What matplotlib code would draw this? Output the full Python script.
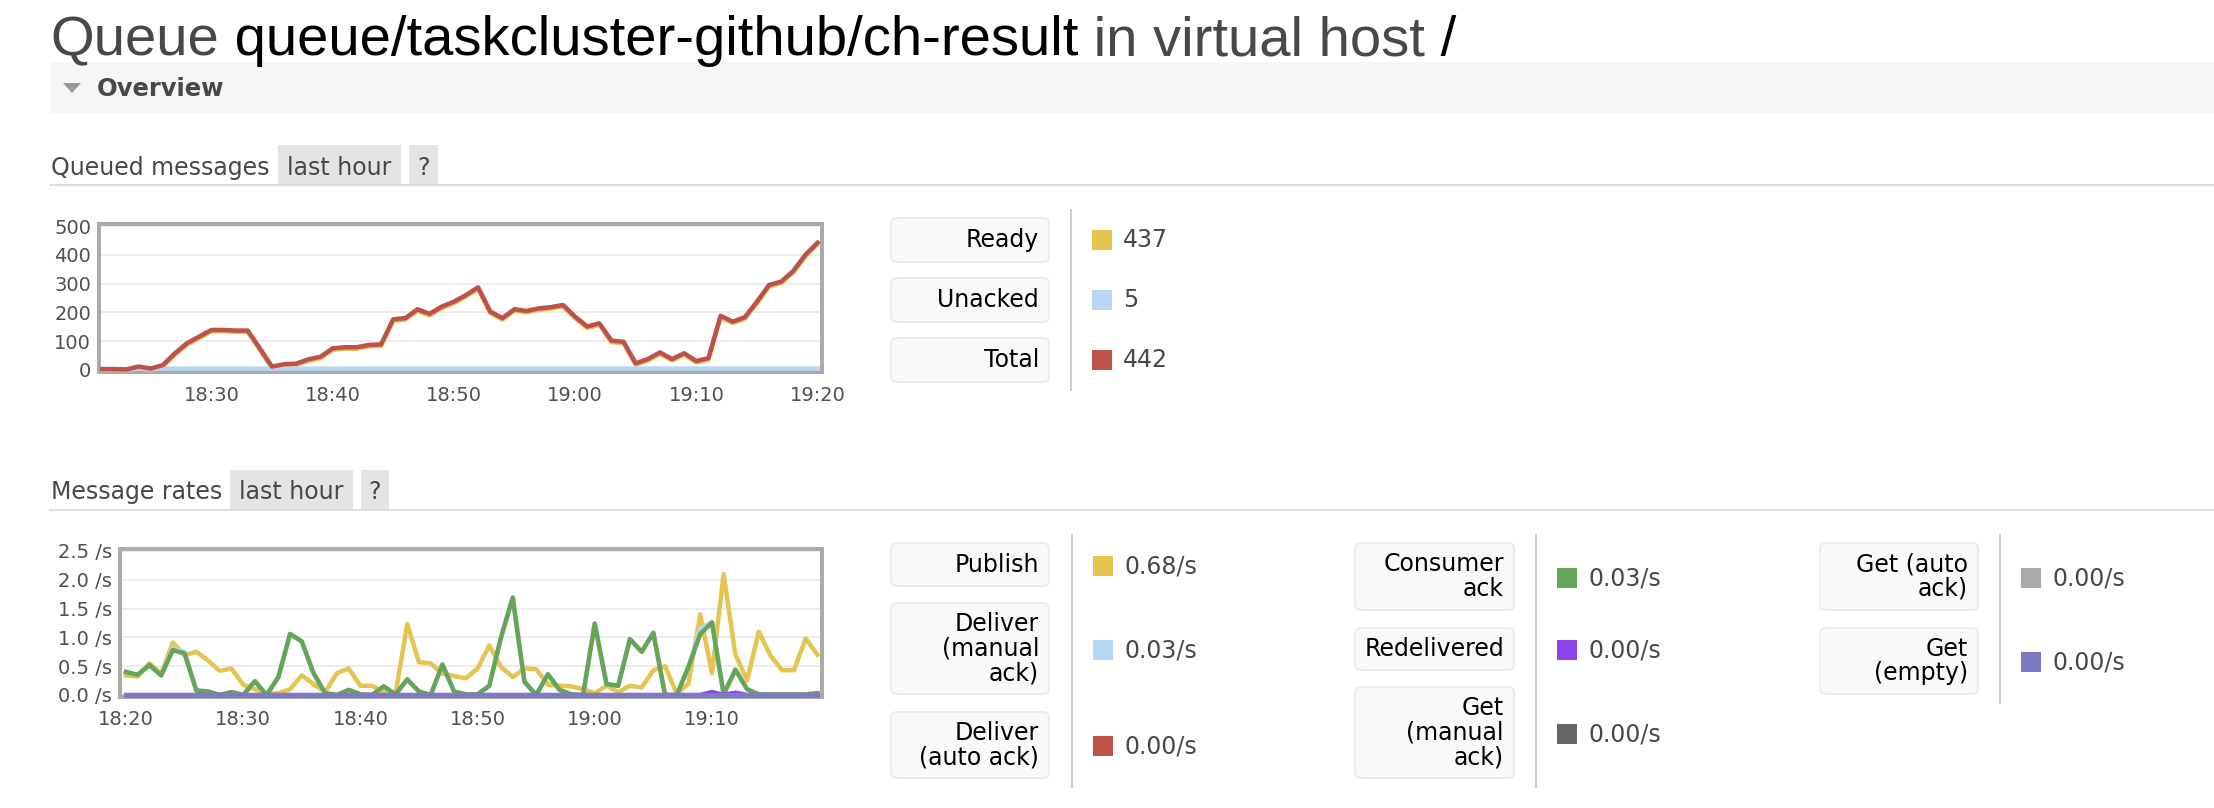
import matplotlib
matplotlib.use('Agg')
import matplotlib.pyplot as plt
from matplotlib.patches import Rectangle, FancyBboxPatch, Polygon

# queued messages, one point per minute, 18:21 .. 19:20
queue_minutes = list(range(21, 81))
ready = [0, 0, 0, 7, 0, 12, 53, 88, 111, 134,
         134, 132, 132, 70, 7, 15, 17, 32, 41, 70,
         74, 74, 82, 84, 171, 175, 206, 190, 215, 232,
         255, 282, 198, 175, 206, 200, 209, 213, 221, 180,
         146, 157, 97, 93, 18, 33, 56, 33, 53, 26,
         36, 183, 163, 178, 232, 290, 302, 339, 395, 437]
unacked = [3, 3, 2, 5, 5, 5, 5, 5, 5, 5,
           5, 5, 5, 5, 5, 5, 5, 5, 5, 5,
           5, 5, 5, 5, 5, 5, 5, 5, 5, 5,
           5, 5, 5, 5, 5, 5, 5, 5, 5, 5,
           5, 5, 5, 5, 5, 5, 5, 5, 5, 5,
           5, 5, 5, 5, 5, 5, 5, 5, 5, 5]
total = [r + u for r, u in zip(ready, unacked)]

# message rates, one point per minute, 18:20 .. 19:19
rate_minutes = list(range(20, 80))
publish = [0.34, 0.32, 0.55, 0.37, 0.91, 0.69, 0.75, 0.60, 0.42, 0.46,
           0.18, 0.10, 0.02, 0.03, 0.10, 0.34, 0.19, 0.05, 0.38, 0.46,
           0.16, 0.16, 0.05, 0.02, 1.23, 0.57, 0.55, 0.37, 0.33, 0.29,
           0.46, 0.86, 0.49, 0.31, 0.46, 0.45, 0.18, 0.16, 0.15, 0.10,
           0.03, 0.16, 0.05, 0.16, 0.13, 0.43, 0.50, 0.02, 0.20, 1.40,
           0.38, 2.10, 0.70, 0.25, 1.10, 0.68, 0.43, 0.43, 0.98, 0.70]
deliver_manual = [0.40, 0.35, 0.52, 0.34, 0.81, 0.75, 0.08, 0.06, 0.00, 0.05,
                  0.00, 0.24, 0.00, 0.31, 1.06, 0.93, 0.38, 0.03, 0.00, 0.09,
                  0.01, 0.00, 0.15, 0.01, 0.27, 0.06, 0.00, 0.53, 0.06, 0.01,
                  0.01, 0.16, 1.00, 1.69, 0.23, 0.00, 0.36, 0.09, 0.01, 0.00,
                  1.24, 0.19, 0.16, 0.97, 0.75, 1.08, 0.00, 0.00, 0.49, 1.15,
                  1.26, 0.01, 0.44, 0.10, 0.01, 0.01, 0.01, 0.01, 0.01, 0.03]
deliver_auto = [0.0] * 60
consumer_ack = [0.40, 0.35, 0.52, 0.34, 0.78, 0.72, 0.08, 0.06, 0.00, 0.05,
                0.00, 0.24, 0.00, 0.31, 1.06, 0.93, 0.38, 0.03, 0.00, 0.09,
                0.01, 0.00, 0.15, 0.01, 0.27, 0.06, 0.00, 0.53, 0.06, 0.01,
                0.01, 0.16, 1.00, 1.69, 0.23, 0.00, 0.36, 0.09, 0.01, 0.00,
                1.24, 0.19, 0.16, 0.97, 0.75, 1.08, 0.00, 0.00, 0.49, 1.06,
                1.26, 0.01, 0.44, 0.10, 0.01, 0.01, 0.01, 0.01, 0.01, 0.03]
redelivered = [0.0] * 50 + [0.05, 0.0, 0.04, 0.0, 0.0, 0.0, 0.0, 0.0, 0.0, 0.0]
get_manual = [0.0] * 60
get_auto = [0.0] * 60
get_empty = [0.0] * 60

queue_ticks = [30, 40, 50, 60, 70, 80]
queue_tick_labels = ['18:30', '18:40', '18:50', '19:00', '19:10', '19:20']
rate_ticks = [20, 30, 40, 50, 60, 70]
rate_tick_labels = ['18:20', '18:30', '18:40', '18:50', '19:00', '19:10']

queue_names = ['Ready', 'Unacked', 'Total']
queue_now = ['437', '5', '442']
rate_names = ['Publish', 'Deliver\n(manual\nack)', 'Deliver\n(auto ack)',
              'Consumer\nack', 'Redelivered', 'Get\n(manual\nack)',
              'Get (auto\nack)', 'Get\n(empty)']
rate_now = ['0.68/s', '0.03/s', '0.00/s', '0.03/s', '0.00/s', '0.00/s',
            '0.00/s', '0.00/s']

YELLOW = '#e6c452'
BLUE = '#b7d6f4'
RED = '#bc5249'
GREEN = '#64a556'
PURPLE = '#8b44e8'
DGRAY = '#666666'
LGRAY = '#aaaaaa'
SLATE = '#7b79c0'

W, H = 2214, 808
fig = plt.figure(figsize=(W / 100, H / 100), dpi=100)
bg = fig.add_axes([0, 0, 1, 1])
bg.set_xlim(0, W)
bg.set_ylim(H, 0)
bg.axis('off')
PT = 0.72  # points per pixel at dpi 100


def px_rect(x0, y0, x1, y1):
    return [x0 / W, 1 - y1 / H, (x1 - x0) / W, (y1 - y0) / H]


# title, pieces in two colours
renderer = fig.canvas.get_renderer()
x = 50
for piece, col in [('Queue', '#484848'), (' queue/taskcluster-github/ch-result', '#000000'),
                   (' in virtual host', '#484848'), (' /', '#000000')]:
    t = bg.text(x, 55, piece, fontsize=40.5, family='Liberation Sans', color=col, va='baseline')
    x += t.get_window_extent(renderer).width

# overview bar
bg.add_patch(Rectangle((50, 62), W - 50, 51, color='#f6f6f6', lw=0))
bg.add_patch(Polygon([(63, 83), (81, 83), (72, 93)], closed=True, color='#999999', lw=0))
bg.text(97, 96, 'Overview', fontsize=17.5, weight='bold', color='#484848', va='baseline')


def section_header(label, x_text, base, box1, box2, top, bottom):
    bg.text(x_text, base, label, fontsize=17, color='#484848', va='baseline')
    bg.add_patch(Rectangle((box1[0], top), box1[1] - box1[0], bottom - top, color='#e4e4e4', lw=0))
    bg.text(box1[0] + 9, base, 'last hour', fontsize=17, color='#484848', va='baseline')
    bg.add_patch(Rectangle((box2[0], top), box2[1] - box2[0], bottom - top, color='#e4e4e4', lw=0))
    bg.text((box2[0] + box2[1]) / 2, base, '?', fontsize=17, color='#484848', va='baseline', ha='center')
    bg.plot([50, W], [bottom + 1, bottom + 1], color='#dddddd', lw=2 * PT)


section_header('Queued messages', 51, 175, (278, 401), (409, 438), 145, 184)
section_header('Message rates', 51, 499, (230, 353), (361, 389), 470, 509)


def chart(x0, y0, x1, y1):
    # grey border drawn around the plot area, lines may run over it
    bg.add_patch(Rectangle((x0 - 2, y0 - 2), x1 - x0 + 4, y1 - y0 + 4,
                           facecolor='none', edgecolor='#aaaaaa', lw=4 * PT))
    ax = fig.add_axes(px_rect(x0, y0, x1, y1))
    for sp in ax.spines.values():
        sp.set_visible(False)
    return ax


def style_chart(ax, ticks, labels, xlim, ylim, yticks, ylabels, xpad):
    ax.set_xlim(*xlim)
    ax.set_ylim(*ylim)
    ax.set_xticks(ticks)
    ax.set_xticklabels(labels)
    ax.set_yticks(yticks)
    ax.set_yticklabels(ylabels)
    ax.tick_params(axis='both', length=0, labelsize=14, labelcolor='#4f4f4f')
    ax.tick_params(axis='y', pad=10 * PT)
    ax.tick_params(axis='x', pad=xpad)
    ax.yaxis.grid(True, color='#ececec', lw=2 * PT)
    ax.set_axisbelow(True)


LW = 4.5 * PT

# queued messages chart
ax1 = chart(101, 226, 820, 370)
ax1.plot(queue_minutes, ready, color=YELLOW, lw=LW, clip_on=False)
ax1.plot(queue_minutes, unacked, color=BLUE, lw=LW, clip_on=False)
ax1.plot(queue_minutes, total, color=RED, lw=LW, clip_on=False)
style_chart(ax1, queue_ticks, queue_tick_labels, (20.9, 80.2), (0, 500),
            [0, 100, 200, 300, 400, 500], ['0', '100', '200', '300', '400', '500'], 16 * PT)

# message rates chart
ax2 = chart(122, 551, 820, 695)
for series, col in [(publish, YELLOW), (deliver_manual, BLUE), (deliver_auto, RED),
                    (consumer_ack, GREEN), (redelivered, PURPLE), (get_manual, DGRAY),
                    (get_auto, LGRAY), (get_empty, SLATE)]:
    ax2.plot(rate_minutes, series, color=col, lw=LW, clip_on=False)
yt = [0, 0.5, 1.0, 1.5, 2.0, 2.5]
style_chart(ax2, rate_ticks, rate_tick_labels, (19.66, 79.22), (0, 2.5),
            yt, ['%.1f /s' % v for v in yt], 15 * PT)


def legend_box(x0, x1, y0, y1, label):
    bg.add_patch(FancyBboxPatch((x0, y0), x1 - x0, y1 - y0,
                                boxstyle='round,pad=0,rounding_size=6',
                                facecolor='#f9f9f9', edgecolor='#ececec', lw=2 * PT))
    bg.text(x1 - 10, (y0 + y1) / 2, label, fontsize=17, color='#000000',
            ha='right', va='center', linespacing=1.05)


def legend_value(x, yc, col, value):
    bg.add_patch(Rectangle((x, yc - 10), 20, 20, color=col, lw=0))
    bg.text(x + 31, yc, value, fontsize=17, color='#484848', va='center')


# queued messages legend
queue_boxes = [(218, 262), (278, 322), (338, 382)]
for i, name in enumerate(queue_names):
    y0, y1 = queue_boxes[i]
    legend_box(891, 1049, y0, y1, name)
    legend_value(1092, (y0 + y1) / 2, [YELLOW, BLUE, RED][i], queue_now[i])
bg.plot([1071, 1071], [210, 390], color='#cccccc', lw=2 * PT)

# message rates legend
rate_cols = [YELLOW, BLUE, RED, GREEN, PURPLE, DGRAY, LGRAY, SLATE]
rate_boxes = [(891, 1049, 543, 586), (891, 1049, 603, 694), (891, 1049, 712, 778),
              (1355, 1514, 543, 610), (1355, 1514, 628, 670), (1355, 1514, 687, 778),
              (1820, 1978, 543, 610), (1820, 1978, 628, 694)]
swatch_y = [566, 650, 746, 578, 650, 734, 578, 662]
swatch_x = [1093, 1093, 1093, 1557, 1557, 1557, 2021, 2021]
for i, name in enumerate(rate_names):
    x0, x1, y0, y1 = rate_boxes[i]
    legend_box(x0, x1, y0, y1, name)
    legend_value(swatch_x[i], swatch_y[i], rate_cols[i], rate_now[i])
for xd, yb in [(1072, 787), (1536, 787), (2000, 703)]:
    bg.plot([xd, xd], [535, yb], color='#cccccc', lw=2 * PT)

fig.savefig('out.png', dpi=100)
